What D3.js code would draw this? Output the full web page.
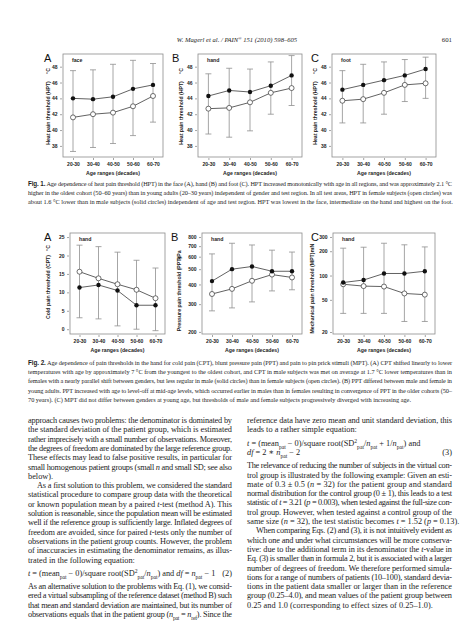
<!DOCTYPE html>
<html>
<head>
<meta charset="utf-8">
<script src="https://cdn.jsdelivr.net/npm/d3@7"></script>
<style>
  body { margin: 0; background: #fff; }
  svg { display: block; }
</style>
</head>
<body>
<script>
// ---- data ----
const ageGroups = ["20-30", "30-40", "40-50", "50-60", "60-70"];

// Fig 1: heat pain threshold, degC
const hptFaceMale   = [44.0, 43.9, 44.2, 45.2, 45.7];
const hptFaceFemale = [41.6, 42.0, 42.2, 43.0, 44.3];
const hptFaceHigh   = [47.5, 47.6, 48.3, 48.8, 48.4];
const hptFaceLow    = [37.3, 37.8, 38.3, 39.3, 41.0];

const hptHandMale   = [44.3, 45.0, 44.8, 45.6, 46.9];
const hptHandFemale = [42.7, 42.8, 43.5, 44.7, 45.3];
const hptHandHigh   = [47.1, 47.8, 47.7, 48.6, 49.4];
const hptHandLow    = [39.5, 39.1, 39.9, 42.0, 43.1];

const hptFootMale   = [45.1, 45.7, 46.3, 46.9, 47.7];
const hptFootFemale = [43.7, 43.9, 44.7, 45.7, 45.9];
const hptFootHigh   = [47.5, 48.3, 48.6, 48.9, 49.2];
const hptFootLow    = [40.9, 40.9, 42.0, 43.6, 44.0];

// Fig 2: cold pain (degC), pressure pain (kPa), pin prick (mN), hand
const cptMale   = [11.3, 12.0, 10.5, 6.5, 6.5];
const cptFemale = [15.6, 13.8, 12.2, 10.7, 8.4];
const cptHigh   = [22.8, 22.4, 20.9, 18.7, 16.6];
const cptLow    = [3.1, 2.8, 0.9, 0.0, -0.4];

const pptMale   = [420, 500, 520, 485, 485];
const pptFemale = [348, 375, 422, 462, 443];
const pptHigh   = [625, 730, 712, 660, 642];
const pptLow    = [272, 284, 310, 364, 370];

const mptMale   = [82, 88, 106, 106, 113];
const mptFemale = [78, 74, 73, 60, 58];
const mptHigh   = [218, 224, 251, 240, 226];
const mptLow    = [34, 34, 34, 27, 27];

const hptTicks = [38, 40, 42, 44, 46, 48];
const cptTicks = [0, 5, 10, 15, 20, 25];
const pptTicks = [200, 300, 400, 500, 600, 700, 800];
const mptTicks = [20, 50, 100, 200, 300];

// ---- page text ----
const headerText = "W. Magerl et al. / PAIN^{®} 151 (2010) 598–605";
const pageNumber = "601";

const fig1Caption = [
  "!Fig. 1.! Age dependence of heat pain threshold (HPT) in the face (A), hand (B) and foot (C). HPT increased monotonically with age in all regions, and was approximately 2.1 °C",
  "higher in the oldest cohort (50–60 years) than in young adults (20–30 years) independent of gender and test region. In all test areas, HPT in female subjects (open circles) was",
  "about 1.6 °C lower than in male subjects (solid circles) independent of age and test region. HPT was lowest in the face, intermediate on the hand and highest on the foot."
];
const fig2Caption = [
  "!Fig. 2.! Age dependence of pain thresholds in the hand for cold pain (CPT), blunt pressure pain (PPT) and pain to pin prick stimuli (MPT). (A) CPT shifted linearly to lower",
  "temperatures with age by approximately 7 °C from the youngest to the oldest cohort, and CPT in male subjects was met on average at 1.7 °C lower temperatures than in",
  "females with a nearly parallel shift between genders, but less regular in male (solid circles) than in female subjects (open circles). (B) PPT differed between male and female in",
  "young adults. PPT increased with age to level-off at mid-age levels, which occurred earlier in males than in females resulting in convergence of PPT in the older cohorts (50–",
  "70 years). (C) MPT did not differ between genders at young age, but thresholds of male and female subjects progressively diverged with increasing age."
];

// lines: [text, kind]  kind: j = justified, e = paragraph end, i = indented+justified, q = equation
const leftColumn = [
  ["approach causes two problems: the denominator is dominated by", "j"],
  ["the standard deviation of the patient group, which is estimated", "j"],
  ["rather imprecisely with a small number of observations. Moreover,", "j"],
  ["the degrees of freedom are dominated by the large reference group.", "j"],
  ["These effects may lead to false positive results, in particular for", "j"],
  ["small homogenous patient groups (small ~n~ and small SD; see also", "j"],
  ["below).", "e"],
  ["As a first solution to this problem, we considered the standard", "i"],
  ["statistical procedure to compare group data with the theoretical", "j"],
  ["or known population mean by a paired ~t~-test (method A). This", "j"],
  ["solution is reasonable, since the population mean will be estimated", "j"],
  ["well if the reference group is sufficiently large. Inflated degrees of", "j"],
  ["freedom are avoided, since for paired ~t~-tests only the number of", "j"],
  ["observations in the patient group counts. However, the problem", "j"],
  ["of inaccuracies in estimating the denominator remains, as illus-", "j"],
  ["trated in the following equation:", "e"],
  ["~t~ = (mean_{pat} − 0)/square root(SD^{2}_{pat}/~n~_{pat}) and ~df~ = ~n~_{pat} − 1", "q", "(2)"],
  ["As an alternative solution to the problems with Eq. (1), we consid-", "j"],
  ["ered a virtual subsampling of the reference dataset (method B) such", "j"],
  ["that mean and standard deviation are maintained, but its number of", "j"],
  ["observations equals that in the patient group (~n~_{pat} = ~n~_{ref}). Since the", "j"]
];
const rightColumn = [
  ["reference data have zero mean and unit standard deviation, this", "j"],
  ["leads to a rather simple equation:", "e"],
  ["~t~ = (mean_{pat} − 0)/square root(SD^{2}_{pat}/~n~_{pat} + 1/~n~_{pat}) and", "q"],
  ["~df~ = 2 ∗ ~n~_{pat} − 2", "q2", "(3)"],
  ["The relevance of reducing the number of subjects in the virtual con-", "j"],
  ["trol group is illustrated by the following example: Given an esti-", "j"],
  ["mate of 0.3 ± 0.5 (~n~ = 32) for the patient group and standard", "j"],
  ["normal distribution for the control group (0 ± 1), this leads to a test", "j"],
  ["statistic of ~t~ = 3.21 (~p~ = 0.003), when tested against the full-size con-", "j"],
  ["trol group. However, when tested against a control group of the", "j"],
  ["same size (~n~ = 32), the test statistic becomes ~t~ = 1.52 (~p~ = 0.13).", "e"],
  ["When comparing Eqs. (2) and (3), it is not intuitively evident as", "i"],
  ["which one and under what circumstances will be more conserva-", "j"],
  ["tive: due to the additional term in its denominator the ~t~-value in", "j"],
  ["Eq. (3) is smaller than in formula 2, but it is associated with a larger", "j"],
  ["number of degrees of freedom. We therefore performed simula-", "j"],
  ["tions for a range of numbers of patients (10–100), standard devia-", "j"],
  ["tions in the patient data smaller or larger than in the reference", "j"],
  ["group (0.25–4.0), and mean values of the patient group between", "j"],
  ["0.25 and 1.0 (corresponding to effect sizes of 0.25–1.0).", "e"]
];

// ---- drawing ----
const width = 474, height = 632;
const svg = d3.select("body").append("svg")
  .attr("width", width).attr("height", height)
  .attr("viewBox", `0 0 ${width} ${height}`);

const serif = "'Liberation Serif', 'DejaVu Serif', serif";
const sans = "'Liberation Sans', Arial, sans-serif";
const ink = "#1c1c1c";

// tiny markup: ~italic~  !bold!  _{sub}  ^{sup}
function rich(sel, str, size) {
  str.split(/(~[^~]+~|![^!]+!|_\{[^}]+\}|\^\{[^}]+\})/g).forEach(part => {
    if (!part) return;
    if (part[0] === "~") sel.append("tspan").attr("font-style", "italic").text(part.slice(1, -1));
    else if (part[0] === "!") sel.append("tspan").attr("font-weight", "bold").attr("font-family", sans).text(part.slice(1, -1));
    else if (part.startsWith("_{")) sel.append("tspan").attr("baseline-shift", "sub").attr("font-size", size * 0.68).text(part.slice(2, -1));
    else if (part.startsWith("^{")) sel.append("tspan").attr("baseline-shift", "super").attr("font-size", size * 0.68).text(part.slice(2, -1));
    else sel.append("tspan").text(part);
  });
  return sel;
}

// header
rich(svg.append("text").attr("x", 237).attr("y", 42).attr("text-anchor", "middle")
  .attr("font-family", serif).attr("font-style", "italic").attr("font-size", 6.6).attr("fill", ink), headerText, 6.6);
svg.append("text").attr("x", 452).attr("y", 42).attr("text-anchor", "end")
  .attr("font-family", serif).attr("font-size", 6.8).attr("fill", ink).text(pageNumber);

function drawPanel(p) {
  const g = svg.append("g");
  const x = d3.scalePoint().domain(ageGroups).range([p.x0, p.x1]).padding(0.5);
  const y = (p.log ? d3.scaleLog() : d3.scaleLinear()).domain(p.domain).range([p.y1, p.y0]);

  g.append("rect")
    .attr("x", p.x0).attr("y", p.y0)
    .attr("width", p.x1 - p.x0).attr("height", p.y1 - p.y0)
    .attr("fill", "none").attr("stroke", "#8c8c8c").attr("stroke-width", 0.8);

  const ya = g.append("g").attr("transform", `translate(${p.x0 - 1},0)`)
    .call(d3.axisLeft(y).tickValues(p.ticks).tickFormat(d3.format("d")).tickSize(2).tickPadding(2.5));
  ya.select(".domain").remove();
  ya.selectAll(".tick line").attr("stroke", "#666").attr("stroke-width", 0.6);
  ya.selectAll(".tick text").attr("font-family", sans).attr("font-weight", "bold")
    .attr("font-size", 5).attr("fill", ink);

  const xa = g.append("g").attr("transform", `translate(0,${p.y1 + 1})`)
    .call(d3.axisBottom(x).tickSize(2).tickPadding(2.5));
  xa.select(".domain").remove();
  xa.selectAll(".tick line").attr("stroke", "#666").attr("stroke-width", 0.6);
  xa.selectAll(".tick text").attr("font-family", sans).attr("font-weight", "bold")
    .attr("font-size", 5).attr("fill", ink);

  g.append("text").attr("x", (p.x0 + p.x1) / 2).attr("y", p.y1 + 17.5)
    .attr("text-anchor", "middle").attr("font-family", sans).attr("font-weight", "bold")
    .attr("font-size", 5.2).attr("fill", ink).text("Age ranges (decades)");

  // y title and unit
  g.append("text").attr("transform", `translate(${p.tx},${p.ty}) rotate(-90)`)
    .attr("text-anchor", "middle").attr("font-family", sans).attr("font-weight", "bold")
    .attr("font-size", 5.2).attr("fill", ink).text(p.title);
  g.append("text").attr("transform", `translate(${p.tx},${p.uy}) rotate(-90)`)
    .attr("text-anchor", "middle").attr("font-family", sans).attr("font-weight", "bold")
    .attr("font-size", 5.2).attr("fill", ink).text(p.unit);

  g.append("text").attr("x", p.lx).attr("y", p.y0 + 8)
    .attr("font-family", sans).attr("font-size", 11).attr("fill", "#111").text(p.letter);
  g.append("text").attr("x", p.x0 + 9).attr("y", p.y0 + 7.5)
    .attr("font-family", sans).attr("font-weight", "bold").attr("font-size", 5.2)
    .attr("fill", ink).text(p.region);

  const rows = ageGroups.map((a, i) => ({
    a, male: p.male[i], female: p.female[i], hi: p.high[i], lo: p.low[i]
  }));

  // error bars
  const eb = g.append("g").attr("stroke", "#8f8f8f").attr("stroke-width", 0.8);
  eb.selectAll("line.v").data(rows).join("line").attr("class", "v")
    .attr("x1", d => x(d.a)).attr("x2", d => x(d.a))
    .attr("y1", d => y(d.lo)).attr("y2", d => y(d.hi));
  eb.selectAll("line.ch").data(rows).join("line").attr("class", "ch")
    .attr("x1", d => x(d.a) - 3).attr("x2", d => x(d.a) + 3)
    .attr("y1", d => y(d.hi)).attr("y2", d => y(d.hi));
  eb.selectAll("line.cl").data(rows).join("line").attr("class", "cl")
    .attr("x1", d => x(d.a) - 3).attr("x2", d => x(d.a) + 3)
    .attr("y1", d => y(d.lo)).attr("y2", d => y(d.lo));

  const line = key => d3.line().x(d => x(d.a)).y(d => y(d[key]));
  g.append("path").datum(rows).attr("d", line("male"))
    .attr("fill", "none").attr("stroke", "#3a3a3a").attr("stroke-width", 0.8);
  g.append("path").datum(rows).attr("d", line("female"))
    .attr("fill", "none").attr("stroke", "#3a3a3a").attr("stroke-width", 0.8);

  g.selectAll("circle.f").data(rows).join("circle").attr("class", "f")
    .attr("cx", d => x(d.a)).attr("cy", d => y(d.female)).attr("r", 2.5)
    .attr("fill", "#fff").attr("stroke", "#333").attr("stroke-width", 0.7);
  g.selectAll("circle.m").data(rows).join("circle").attr("class", "m")
    .attr("cx", d => x(d.a)).attr("cy", d => y(d.male)).attr("r", 2.2)
    .attr("fill", "#111");
}

const hptTitle = "Heat pain threshold (HPT)";
const fig1 = { y0: 54, y1: 157, domain: [36.6, 49.6], ticks: hptTicks, title: hptTitle, unit: "°C", ty: 113, uy: 71 };
drawPanel({ ...fig1, x0: 63, x1: 163, tx: 50, lx: 44, letter: "A", region: "face",
  male: hptFaceMale, female: hptFaceFemale, high: hptFaceHigh, low: hptFaceLow });
drawPanel({ ...fig1, x0: 198, x1: 302, tx: 183, lx: 172, letter: "B", region: "hand",
  male: hptHandMale, female: hptHandFemale, high: hptHandHigh, low: hptHandLow });
drawPanel({ ...fig1, x0: 332, x1: 436, tx: 317, lx: 311, letter: "C", region: "foot",
  male: hptFootMale, female: hptFootFemale, high: hptFootHigh, low: hptFootLow });

const fig2 = { y0: 233, y1: 334 };
drawPanel({ ...fig2, x0: 70, x1: 165, tx: 50, ty: 287, uy: 248, lx: 44, letter: "A", region: "hand",
  domain: [-1.3, 26.1], ticks: cptTicks, title: "Cold pain threshold (CPT)", unit: "°C",
  male: cptMale, female: cptFemale, high: cptHigh, low: cptLow });
drawPanel({ ...fig2, x0: 202, x1: 302, tx: 181, ty: 294, uy: 255, lx: 171, letter: "B", region: "hand",
  log: true, domain: [194, 848], ticks: pptTicks, title: "Pressure pain threshold (PPT)", unit: "kPa",
  male: pptMale, female: pptFemale, high: pptHigh, low: pptLow });
drawPanel({ ...fig2, x0: 333, x1: 435, tx: 314, ty: 293, uy: 248, lx: 311, letter: "C", region: "hand",
  log: true, domain: [18.9, 336], ticks: mptTicks, title: "Mechanical pain threshold (MPT)", unit: "mN",
  male: mptMale, female: mptFemale, high: mptHigh, low: mptLow });

// captions
function caption(lines, y, lh) {
  lines.forEach((l, i) => {
    const t = svg.append("text").attr("x", 28).attr("y", y + i * lh)
      .attr("font-family", serif).attr("font-size", 6.3).attr("fill", ink);
    rich(t, l, 6.3);
    if (i < lines.length - 1) t.attr("textLength", 424).attr("lengthAdjust", "spacing");
  });
}
caption(fig1Caption, 186, 9);
caption(fig2Caption, 365, 9.2);

// body columns
function column(lines, x, w, y, lh) {
  const fs = 8.3;
  let yy = y;
  lines.forEach((l, i) => {
    const [str, kind, tag] = l;
    if (kind === "q" && (i === 0 || lines[i - 1][1] !== "q")) yy += 4;
    const indent = kind === "i" ? 9 : 0;
    const t = svg.append("text").attr("x", x + indent).attr("y", yy)
      .attr("font-family", serif).attr("font-size", fs).attr("fill", ink);
    rich(t, str, fs);
    if (kind === "j" || kind === "i") t.attr("textLength", w - indent).attr("lengthAdjust", "spacing");
    if (tag) {
      const tg = svg.append("text").attr("x", x + w).attr("y", yy).attr("text-anchor", "end")
        .attr("font-family", serif).attr("font-size", fs).attr("fill", ink).text(tag);
      // keep the equation clear of its number
      const room = w - tg.node().getComputedTextLength() - 7;
      if (t.node().getComputedTextLength() > room) t.attr("textLength", room).attr("lengthAdjust", "spacing");
    }
    yy += lh;
    if (kind === "q2" || (kind === "q" && (!lines[i + 1] || lines[i + 1][1] !== "q2"))) yy += 4;
  });
}
column(leftColumn, 28, 204, 423, 9.3);
column(rightColumn, 247, 205, 423, 9.3);
</script>
</body>
</html>
